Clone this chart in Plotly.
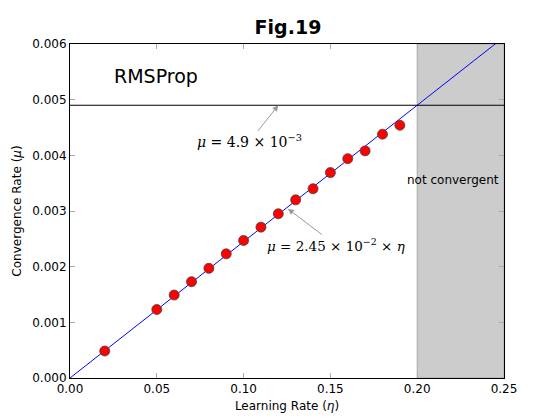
import plotly.graph_objects as go

# learning rates and measured convergence rates
eta = [0.02, 0.05, 0.06, 0.07, 0.08, 0.09, 0.10, 0.11, 0.12,
       0.13, 0.14, 0.15, 0.16, 0.17, 0.18, 0.19]
mu = [0.000485, 0.00123, 0.00149, 0.00173, 0.00197, 0.00223, 0.00247, 0.00271, 0.00295,
      0.00320, 0.00340, 0.00369, 0.00394, 0.00408, 0.00438, 0.00454]

fit_x = [0.0, 0.25]
slope = 0.0245
fit_y = [slope * v for v in fit_x]
mu_max = 0.0049
limit_eta = 0.2

xticks = [0.0, 0.05, 0.10, 0.15, 0.20, 0.25]
yticks = [0.0, 0.001, 0.002, 0.003, 0.004, 0.005, 0.006]

fig = go.Figure()

# grey band: not convergent
fig.add_shape(type="rect", x0=limit_eta, x1=0.25, y0=0, y1=0.006,
              fillcolor="#cccccc", line=dict(color="#aaaaaa", width=1), layer="below")

fig.add_hline(y=mu_max, line=dict(color="black", width=1.2))

fig.add_trace(go.Scatter(x=fit_x, y=fit_y, mode="lines",
                         line=dict(color="blue", width=1), showlegend=False))
fig.add_trace(go.Scatter(x=eta, y=mu, mode="markers",
                         marker=dict(color="red", size=10, line=dict(color="#444444", width=0.8)),
                         showlegend=False))

serif = "DejaVu Serif"
# text sits at (ax, ay), arrow points to (x, y)
fig.add_annotation(x=0.12, y=mu_max, ax=0.1035, ay=0.00425, xref="x", yref="y",
                   axref="x", ayref="y", showarrow=True, arrowhead=2, arrowsize=1.2,
                   arrowwidth=1, arrowcolor="#999999",
                   text="<i>μ</i> = 4.9 × 10<sup>−3</sup>",
                   font=dict(family=serif, size=14, color="black"))
fig.add_annotation(x=0.1255, y=0.00304, ax=0.153, ay=0.00239, xref="x", yref="y",
                   axref="x", ayref="y", showarrow=True, arrowhead=2, arrowsize=1.2,
                   arrowwidth=1, arrowcolor="#999999",
                   text="<i>μ</i> = 2.45 × 10<sup>−2</sup> × <i>η</i>",
                   font=dict(family=serif, size=13.5, color="black"))

fig.add_annotation(x=0.2205, y=0.00356, text="not convergent", showarrow=False,
                   font=dict(size=12, color="black"))
fig.add_annotation(x=0.024, y=0.00542, text="RMSProp", showarrow=False, xanchor="left",
                   font=dict(size=19, color="black"))

axis_common = dict(showgrid=False, zeroline=False, showline=True, linecolor="black",
                   linewidth=1, mirror="ticks", ticks="inside", ticklen=5,
                   tickcolor="#aaaaaa", tickfont=dict(size=12, color="black"),
                   automargin=False)

fig.update_layout(
    width=560, height=420,
    margin=dict(l=62, r=64, t=36, b=50),
    plot_bgcolor="white", paper_bgcolor="white",
    font=dict(family="DejaVu Sans", color="black"),
    title=dict(text="<b>Fig.19</b>", x=0.5, xanchor="center", y=0.955, yanchor="middle",
               font=dict(size=19)),
    xaxis=dict(range=[0, 0.25], tickvals=xticks, ticktext=[f"{v:.2f}" for v in xticks],
               title=dict(text="Learning Rate (<i>η</i>)", font=dict(size=12), standoff=6),
               **axis_common),
    yaxis=dict(range=[0, 0.006], tickvals=yticks, ticktext=[f"{v:.3f}" for v in yticks],
               title=dict(text="Convergence Rate (<i>μ</i>)", font=dict(size=12), standoff=8),
               **axis_common),
)

fig.write_html("out.html")
